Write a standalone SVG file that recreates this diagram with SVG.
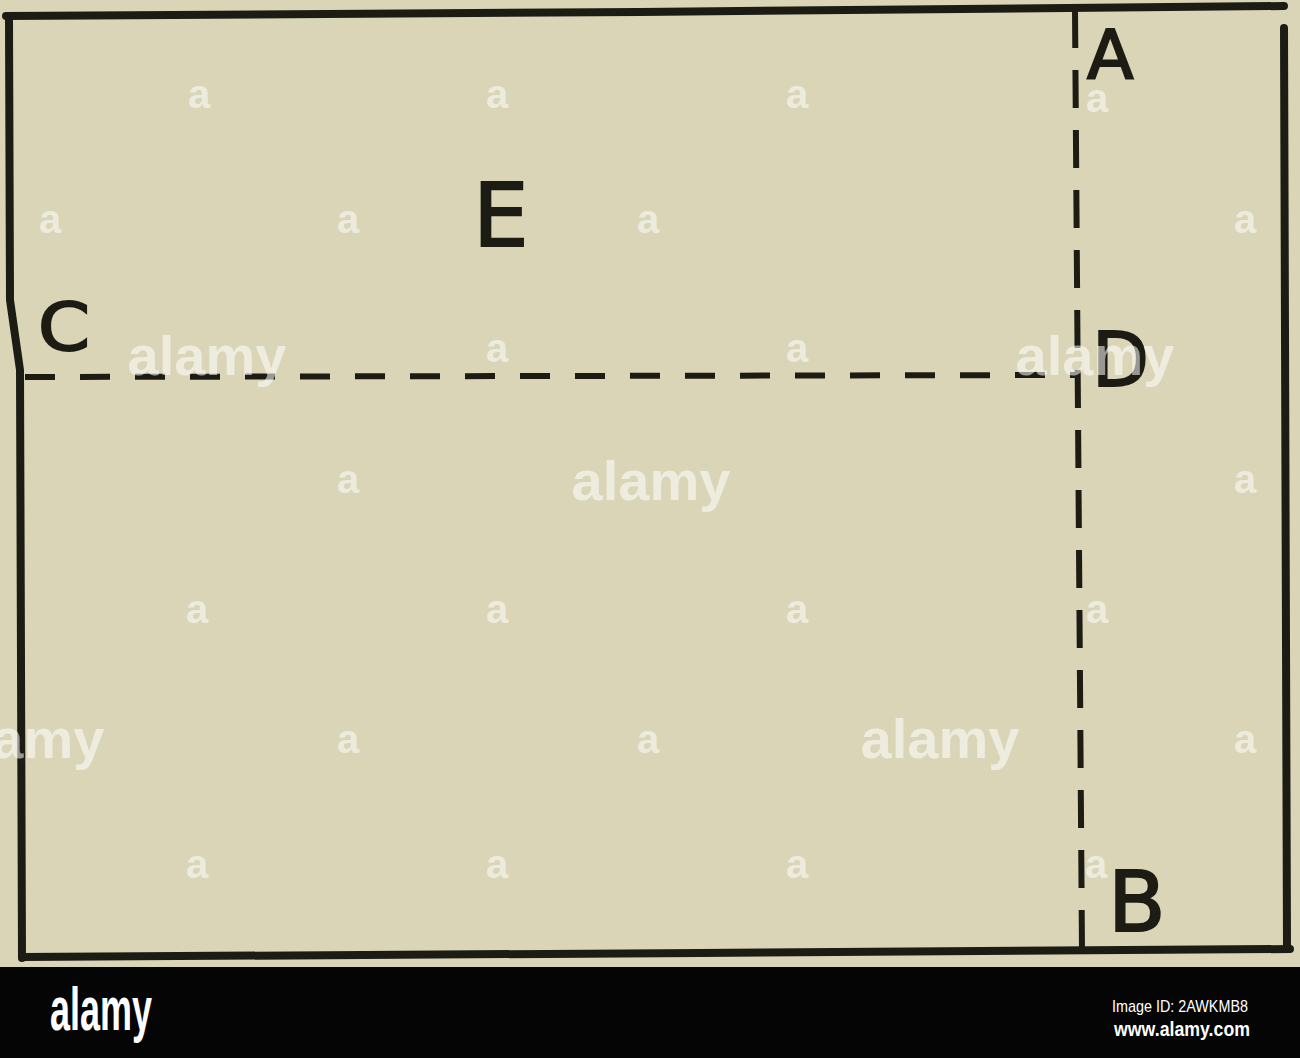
<svg xmlns="http://www.w3.org/2000/svg" width="1300" height="1058" viewBox="0 0 1300 1058">
<style>
.edge{stroke:#1d1c14;stroke-width:8;fill:none;stroke-linecap:round;stroke-linejoin:round}
.dash{stroke:#1d1c14;stroke-width:6;fill:none}
.lbl{font-family:"DejaVu Sans","Liberation Sans",sans-serif;fill:#1d1c14;stroke:#1d1c14;stroke-width:2}
.wm{font-family:"Liberation Sans",Arial,sans-serif;font-weight:bold;fill:#ffffff;fill-opacity:0.55}
.ban{font-family:"Liberation Sans",Arial,sans-serif;fill:#ffffff}
</style>
<rect width="1300" height="1058" fill="#dad5b7"/>
<g id="frame">
<path class="edge" stroke-width="10" d="M6 16 L640 12 L1284 6"/>
<path class="edge" d="M9 20 L10 300 L20 370 L22 958"/>
<path class="edge" d="M22 957 L700 953 L1290 949"/>
<path class="edge" d="M1284 28 L1287 949"/>
</g>
<g id="connectors">
<path id="AB" class="dash" stroke-dasharray="38 22" d="M1075 10 L1082 952"/>
<path id="CD" class="dash" stroke-dasharray="30 25" d="M25 377 L1077 375"/>
</g>
<g id="labels">
<text id="A" class="lbl" x="1087" y="79" font-size="68">A</text>
<text id="C" class="lbl" x="38" y="350" font-size="66" textLength="52" lengthAdjust="spacingAndGlyphs">C</text>
<text id="E" class="lbl" x="473" y="246" font-size="88">E</text>
<text id="D" class="lbl" x="1092" y="386" font-size="74">D</text>
<text id="B" class="lbl" x="1108" y="931" font-size="84">B</text>
</g>
<g id="watermarks" class="wm" font-size="40" text-anchor="middle">
<text x="199" y="108">a</text><text x="497" y="108">a</text><text x="797" y="108">a</text><text x="1097" y="112">a</text>
<text x="50" y="233">a</text><text x="348" y="233">a</text><text x="648" y="233">a</text><text x="1245" y="233">a</text>
<text x="207" y="375" font-size="56">alamy</text><text x="497" y="362">a</text><text x="797" y="362">a</text><text x="1095" y="375" font-size="56">alamy</text>
<text x="348" y="493">a</text><text x="651" y="500" font-size="56">alamy</text><text x="1245" y="493">a</text>
<text x="197" y="623">a</text><text x="497" y="623">a</text><text x="797" y="623">a</text><text x="1097" y="623">a</text>
<text x="25" y="758" font-size="56">alamy</text><text x="348" y="753">a</text><text x="648" y="753">a</text><text x="940" y="758" font-size="56">alamy</text><text x="1245" y="753">a</text>
<text x="197" y="878">a</text><text x="497" y="878">a</text><text x="797" y="878">a</text><text x="1096" y="878">a</text>
</g>
<g id="banner">
<rect x="0" y="967" width="1300" height="91" fill="#050505"/>
<text class="ban" x="50" y="1030" font-size="62" font-weight="bold" textLength="102" lengthAdjust="spacingAndGlyphs">alamy</text>
<text class="ban" x="1248" y="1012" font-size="17" text-anchor="end" textLength="136" lengthAdjust="spacingAndGlyphs">Image ID: 2AWKMB8</text>
<text class="ban" x="1250" y="1036" font-size="21" font-weight="bold" text-anchor="end" textLength="136" lengthAdjust="spacingAndGlyphs">www.alamy.com</text>
</g>
</svg>
